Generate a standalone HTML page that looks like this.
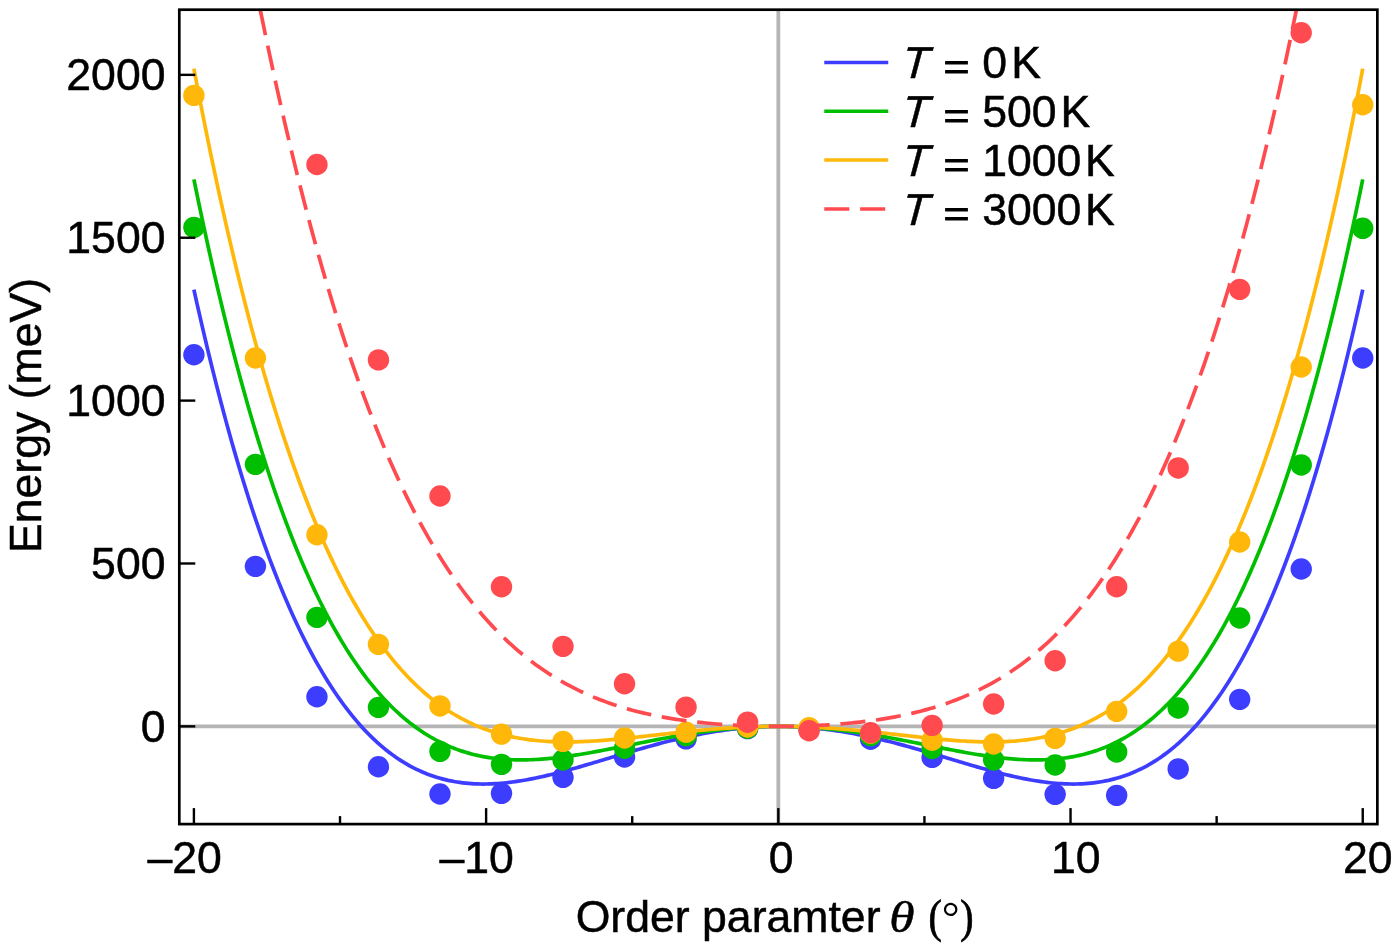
<!DOCTYPE html>
<html lang="en"><head><meta charset="utf-8"><title>Energy vs order parameter</title>
<style>html,body{margin:0;padding:0;background:#fff}svg{display:block;filter:blur(0.4px)}text{font-family:"Liberation Sans",sans-serif;font-size:44.6px;fill:#000;stroke:#000;stroke-width:0.5px}.it{font-style:italic}.ser{font-family:"Liberation Serif",serif;font-style:italic}</style></head><body>
<svg width="1400" height="950" viewBox="0 0 1400 950">
<rect width="1400" height="950" fill="#fff"/>
<defs><clipPath id="ax"><rect x="179.3" y="9.7" width="1198.05" height="814.4"/></clipPath></defs>
<g stroke="#b5b5b5" stroke-width="3.8" fill="none">
<line x1="179.3" y1="726.37" x2="1377.35" y2="726.37"/>
<line x1="778.33" y1="9.7" x2="778.33" y2="824.1"/>
</g>
<g clip-path="url(#ax)">
<path d="M193.91,289.66 L196.83,302.80 L199.75,315.70 L202.68,328.36 L205.60,340.79 L208.52,352.98 L211.44,364.94 L214.36,376.67 L217.29,388.18 L220.21,399.46 L223.13,410.53 L226.05,421.37 L228.98,432.00 L231.90,442.42 L234.82,452.62 L237.74,462.62 L240.66,472.41 L243.59,481.99 L246.51,491.38 L249.43,500.57 L252.35,509.56 L255.27,518.36 L258.20,526.97 L261.12,535.39 L264.04,543.62 L266.96,551.67 L269.88,559.53 L272.81,567.22 L275.73,574.73 L278.65,582.07 L281.57,589.23 L284.49,596.22 L287.42,603.05 L290.34,609.71 L293.26,616.20 L296.18,622.54 L299.11,628.71 L302.03,634.73 L304.95,640.59 L307.87,646.30 L310.79,651.87 L313.72,657.28 L316.64,662.55 L319.56,667.67 L322.48,672.65 L325.40,677.49 L328.33,682.19 L331.25,686.76 L334.17,691.20 L337.09,695.50 L340.01,699.67 L342.94,703.72 L345.86,707.64 L348.78,711.44 L351.70,715.11 L354.62,718.67 L357.55,722.11 L360.47,725.43 L363.39,728.64 L366.31,731.74 L369.23,734.72 L372.16,737.60 L375.08,740.37 L378.00,743.04 L380.92,745.61 L383.85,748.07 L386.77,750.44 L389.69,752.71 L392.61,754.88 L395.53,756.96 L398.46,758.95 L401.38,760.84 L404.30,762.65 L407.22,764.37 L410.14,766.01 L413.07,767.57 L415.99,769.04 L418.91,770.43 L421.83,771.75 L424.75,772.98 L427.68,774.15 L430.60,775.23 L433.52,776.25 L436.44,777.20 L439.36,778.08 L442.29,778.89 L445.21,779.63 L448.13,780.32 L451.05,780.93 L453.97,781.49 L456.90,781.99 L459.82,782.43 L462.74,782.81 L465.66,783.14 L468.59,783.42 L471.51,783.64 L474.43,783.81 L477.35,783.93 L480.27,784.01 L483.20,784.03 L486.12,784.02 L489.04,783.95 L491.96,783.85 L494.88,783.70 L497.81,783.51 L500.73,783.29 L503.65,783.02 L506.57,782.73 L509.49,782.39 L512.42,782.02 L515.34,781.62 L518.26,781.19 L521.18,780.73 L524.10,780.23 L527.03,779.71 L529.95,779.17 L532.87,778.60 L535.79,778.00 L538.72,777.38 L541.64,776.74 L544.56,776.08 L547.48,775.39 L550.40,774.69 L553.33,773.97 L556.25,773.23 L559.17,772.48 L562.09,771.71 L565.01,770.93 L567.94,770.14 L570.86,769.33 L573.78,768.51 L576.70,767.69 L579.62,766.85 L582.55,766.00 L585.47,765.15 L588.39,764.29 L591.31,763.43 L594.23,762.56 L597.16,761.69 L600.08,760.81 L603.00,759.94 L605.92,759.06 L608.84,758.18 L611.77,757.30 L614.69,756.42 L617.61,755.54 L620.53,754.67 L623.46,753.80 L626.38,752.93 L629.30,752.07 L632.22,751.21 L635.14,750.36 L638.07,749.51 L640.99,748.68 L643.91,747.85 L646.83,747.02 L649.75,746.21 L652.68,745.41 L655.60,744.62 L658.52,743.84 L661.44,743.07 L664.36,742.31 L667.29,741.57 L670.21,740.83 L673.13,740.12 L676.05,739.41 L678.97,738.72 L681.90,738.05 L684.82,737.39 L687.74,736.74 L690.66,736.11 L693.58,735.50 L696.51,734.91 L699.43,734.33 L702.35,733.77 L705.27,733.23 L708.20,732.71 L711.12,732.21 L714.04,731.72 L716.96,731.26 L719.88,730.81 L722.81,730.39 L725.73,729.98 L728.65,729.60 L731.57,729.23 L734.49,728.89 L737.42,728.57 L740.34,728.27 L743.26,727.99 L746.18,727.73 L749.10,727.50 L752.03,727.29 L754.95,727.09 L757.87,726.93 L760.79,726.78 L763.71,726.65 L766.64,726.55 L769.56,726.47 L772.48,726.42 L775.40,726.38 L778.33,726.37 L781.25,726.38 L784.17,726.42 L787.09,726.47 L790.01,726.55 L792.94,726.65 L795.86,726.78 L798.78,726.93 L801.70,727.09 L804.62,727.29 L807.55,727.50 L810.47,727.73 L813.39,727.99 L816.31,728.27 L819.23,728.57 L822.16,728.89 L825.08,729.23 L828.00,729.60 L830.92,729.98 L833.84,730.39 L836.77,730.81 L839.69,731.26 L842.61,731.72 L845.53,732.21 L848.45,732.71 L851.38,733.23 L854.30,733.77 L857.22,734.33 L860.14,734.91 L863.07,735.50 L865.99,736.11 L868.91,736.74 L871.83,737.39 L874.75,738.05 L877.68,738.72 L880.60,739.41 L883.52,740.12 L886.44,740.83 L889.36,741.57 L892.29,742.31 L895.21,743.07 L898.13,743.84 L901.05,744.62 L903.97,745.41 L906.90,746.21 L909.82,747.02 L912.74,747.85 L915.66,748.68 L918.58,749.51 L921.51,750.36 L924.43,751.21 L927.35,752.07 L930.27,752.93 L933.19,753.80 L936.12,754.67 L939.04,755.54 L941.96,756.42 L944.88,757.30 L947.81,758.18 L950.73,759.06 L953.65,759.94 L956.57,760.81 L959.49,761.69 L962.42,762.56 L965.34,763.43 L968.26,764.29 L971.18,765.15 L974.10,766.00 L977.03,766.85 L979.95,767.69 L982.87,768.51 L985.79,769.33 L988.71,770.14 L991.64,770.93 L994.56,771.71 L997.48,772.48 L1000.40,773.23 L1003.32,773.97 L1006.25,774.69 L1009.17,775.39 L1012.09,776.08 L1015.01,776.74 L1017.93,777.38 L1020.86,778.00 L1023.78,778.60 L1026.70,779.17 L1029.62,779.71 L1032.55,780.23 L1035.47,780.73 L1038.39,781.19 L1041.31,781.62 L1044.23,782.02 L1047.16,782.39 L1050.08,782.73 L1053.00,783.02 L1055.92,783.29 L1058.84,783.51 L1061.77,783.70 L1064.69,783.85 L1067.61,783.95 L1070.53,784.02 L1073.45,784.03 L1076.38,784.01 L1079.30,783.93 L1082.22,783.81 L1085.14,783.64 L1088.06,783.42 L1090.99,783.14 L1093.91,782.81 L1096.83,782.43 L1099.75,781.99 L1102.68,781.49 L1105.60,780.93 L1108.52,780.32 L1111.44,779.63 L1114.36,778.89 L1117.29,778.08 L1120.21,777.20 L1123.13,776.25 L1126.05,775.23 L1128.97,774.15 L1131.90,772.98 L1134.82,771.75 L1137.74,770.43 L1140.66,769.04 L1143.58,767.57 L1146.51,766.01 L1149.43,764.37 L1152.35,762.65 L1155.27,760.84 L1158.19,758.95 L1161.12,756.96 L1164.04,754.88 L1166.96,752.71 L1169.88,750.44 L1172.80,748.07 L1175.73,745.61 L1178.65,743.04 L1181.57,740.37 L1184.49,737.60 L1187.42,734.72 L1190.34,731.74 L1193.26,728.64 L1196.18,725.43 L1199.10,722.11 L1202.03,718.67 L1204.95,715.11 L1207.87,711.44 L1210.79,707.64 L1213.71,703.72 L1216.64,699.67 L1219.56,695.50 L1222.48,691.20 L1225.40,686.76 L1228.32,682.19 L1231.25,677.49 L1234.17,672.65 L1237.09,667.67 L1240.01,662.55 L1242.93,657.28 L1245.86,651.87 L1248.78,646.30 L1251.70,640.59 L1254.62,634.73 L1257.54,628.71 L1260.47,622.54 L1263.39,616.20 L1266.31,609.71 L1269.23,603.05 L1272.16,596.22 L1275.08,589.23 L1278.00,582.07 L1280.92,574.73 L1283.84,567.22 L1286.77,559.53 L1289.69,551.67 L1292.61,543.62 L1295.53,535.39 L1298.45,526.97 L1301.38,518.36 L1304.30,509.56 L1307.22,500.57 L1310.14,491.38 L1313.06,481.99 L1315.99,472.41 L1318.91,462.62 L1321.83,452.62 L1324.75,442.42 L1327.67,432.00 L1330.60,421.37 L1333.52,410.53 L1336.44,399.46 L1339.36,388.18 L1342.29,376.67 L1345.21,364.94 L1348.13,352.98 L1351.05,340.79 L1353.97,328.36 L1356.90,315.70 L1359.82,302.80 L1362.74,289.66" fill="none" stroke="#3d3dff" stroke-width="3.7"/>
<g fill="#3d3dff">
<circle cx="193.91" cy="354.74" r="10.7"/>
<circle cx="255.43" cy="566.35" r="10.7"/>
<circle cx="316.95" cy="696.75" r="10.7"/>
<circle cx="378.46" cy="766.76" r="10.7"/>
<circle cx="439.98" cy="793.96" r="10.7"/>
<circle cx="501.50" cy="793.34" r="10.7"/>
<circle cx="563.01" cy="777.35" r="10.7"/>
<circle cx="624.53" cy="757.02" r="10.7"/>
<circle cx="686.05" cy="738.81" r="10.7"/>
<circle cx="747.57" cy="728.64" r="10.7"/>
<circle cx="809.08" cy="729.00" r="10.7"/>
<circle cx="870.60" cy="739.23" r="10.7"/>
<circle cx="932.12" cy="757.41" r="10.7"/>
<circle cx="993.64" cy="778.35" r="10.7"/>
<circle cx="1055.15" cy="794.35" r="10.7"/>
<circle cx="1116.67" cy="795.36" r="10.7"/>
<circle cx="1178.19" cy="768.94" r="10.7"/>
<circle cx="1239.70" cy="699.36" r="10.7"/>
<circle cx="1301.22" cy="568.96" r="10.7"/>
<circle cx="1362.74" cy="357.96" r="10.7"/>
</g>
<path d="M193.91,179.29 L196.83,193.57 L199.75,207.60 L202.68,221.39 L205.60,234.93 L208.52,248.23 L211.44,261.30 L214.36,274.13 L217.29,286.73 L220.21,299.10 L223.13,311.24 L226.05,323.16 L228.98,334.85 L231.90,346.33 L234.82,357.59 L237.74,368.63 L240.66,379.47 L243.59,390.09 L246.51,400.50 L249.43,410.72 L252.35,420.72 L255.27,430.53 L258.20,440.15 L261.12,449.56 L264.04,458.79 L266.96,467.82 L269.88,476.67 L272.81,485.33 L275.73,493.81 L278.65,502.10 L281.57,510.22 L284.49,518.16 L287.42,525.93 L290.34,533.52 L293.26,540.95 L296.18,548.21 L299.11,555.30 L302.03,562.23 L304.95,569.00 L307.87,575.62 L310.79,582.07 L313.72,588.37 L316.64,594.52 L319.56,600.52 L322.48,606.37 L325.40,612.08 L328.33,617.64 L331.25,623.06 L334.17,628.34 L337.09,633.48 L340.01,638.49 L342.94,643.36 L345.86,648.11 L348.78,652.72 L351.70,657.21 L354.62,661.57 L357.55,665.80 L360.47,669.92 L363.39,673.91 L366.31,677.79 L369.23,681.55 L372.16,685.20 L375.08,688.74 L378.00,692.16 L380.92,695.48 L383.85,698.69 L386.77,701.80 L389.69,704.80 L392.61,707.70 L395.53,710.50 L398.46,713.21 L401.38,715.81 L404.30,718.33 L407.22,720.75 L410.14,723.08 L413.07,725.32 L415.99,727.48 L418.91,729.55 L421.83,731.53 L424.75,733.43 L427.68,735.25 L430.60,737.00 L433.52,738.66 L436.44,740.25 L439.36,741.76 L442.29,743.21 L445.21,744.58 L448.13,745.88 L451.05,747.11 L453.97,748.27 L456.90,749.37 L459.82,750.41 L462.74,751.38 L465.66,752.30 L468.59,753.15 L471.51,753.95 L474.43,754.69 L477.35,755.37 L480.27,756.00 L483.20,756.58 L486.12,757.11 L489.04,757.58 L491.96,758.01 L494.88,758.40 L497.81,758.73 L500.73,759.02 L503.65,759.27 L506.57,759.48 L509.49,759.65 L512.42,759.77 L515.34,759.86 L518.26,759.91 L521.18,759.93 L524.10,759.91 L527.03,759.86 L529.95,759.77 L532.87,759.66 L535.79,759.51 L538.72,759.34 L541.64,759.14 L544.56,758.91 L547.48,758.65 L550.40,758.37 L553.33,758.07 L556.25,757.75 L559.17,757.40 L562.09,757.04 L565.01,756.65 L567.94,756.25 L570.86,755.82 L573.78,755.39 L576.70,754.93 L579.62,754.46 L582.55,753.98 L585.47,753.49 L588.39,752.98 L591.31,752.46 L594.23,751.94 L597.16,751.40 L600.08,750.85 L603.00,750.30 L605.92,749.74 L608.84,749.18 L611.77,748.60 L614.69,748.03 L617.61,747.45 L620.53,746.87 L623.46,746.28 L626.38,745.70 L629.30,745.11 L632.22,744.52 L635.14,743.94 L638.07,743.35 L640.99,742.77 L643.91,742.19 L646.83,741.61 L649.75,741.04 L652.68,740.47 L655.60,739.91 L658.52,739.35 L661.44,738.79 L664.36,738.25 L667.29,737.71 L670.21,737.18 L673.13,736.65 L676.05,736.14 L678.97,735.63 L681.90,735.14 L684.82,734.65 L687.74,734.18 L690.66,733.71 L693.58,733.26 L696.51,732.82 L699.43,732.39 L702.35,731.97 L705.27,731.56 L708.20,731.17 L711.12,730.80 L714.04,730.43 L716.96,730.08 L719.88,729.75 L722.81,729.42 L725.73,729.12 L728.65,728.83 L731.57,728.55 L734.49,728.29 L737.42,728.05 L740.34,727.82 L743.26,727.61 L746.18,727.41 L749.10,727.23 L752.03,727.07 L754.95,726.92 L757.87,726.79 L760.79,726.68 L763.71,726.59 L766.64,726.51 L769.56,726.45 L772.48,726.41 L775.40,726.38 L778.33,726.37 L781.25,726.38 L784.17,726.41 L787.09,726.45 L790.01,726.51 L792.94,726.59 L795.86,726.68 L798.78,726.79 L801.70,726.92 L804.62,727.07 L807.55,727.23 L810.47,727.41 L813.39,727.61 L816.31,727.82 L819.23,728.05 L822.16,728.29 L825.08,728.55 L828.00,728.83 L830.92,729.12 L833.84,729.42 L836.77,729.75 L839.69,730.08 L842.61,730.43 L845.53,730.80 L848.45,731.17 L851.38,731.56 L854.30,731.97 L857.22,732.39 L860.14,732.82 L863.07,733.26 L865.99,733.71 L868.91,734.18 L871.83,734.65 L874.75,735.14 L877.68,735.63 L880.60,736.14 L883.52,736.65 L886.44,737.18 L889.36,737.71 L892.29,738.25 L895.21,738.79 L898.13,739.35 L901.05,739.91 L903.97,740.47 L906.90,741.04 L909.82,741.61 L912.74,742.19 L915.66,742.77 L918.58,743.35 L921.51,743.94 L924.43,744.52 L927.35,745.11 L930.27,745.70 L933.19,746.28 L936.12,746.87 L939.04,747.45 L941.96,748.03 L944.88,748.60 L947.81,749.18 L950.73,749.74 L953.65,750.30 L956.57,750.85 L959.49,751.40 L962.42,751.94 L965.34,752.46 L968.26,752.98 L971.18,753.49 L974.10,753.98 L977.03,754.46 L979.95,754.93 L982.87,755.39 L985.79,755.82 L988.71,756.25 L991.64,756.65 L994.56,757.04 L997.48,757.40 L1000.40,757.75 L1003.32,758.07 L1006.25,758.37 L1009.17,758.65 L1012.09,758.91 L1015.01,759.14 L1017.93,759.34 L1020.86,759.51 L1023.78,759.66 L1026.70,759.77 L1029.62,759.86 L1032.55,759.91 L1035.47,759.93 L1038.39,759.91 L1041.31,759.86 L1044.23,759.77 L1047.16,759.65 L1050.08,759.48 L1053.00,759.27 L1055.92,759.02 L1058.84,758.73 L1061.77,758.40 L1064.69,758.01 L1067.61,757.58 L1070.53,757.11 L1073.45,756.58 L1076.38,756.00 L1079.30,755.37 L1082.22,754.69 L1085.14,753.95 L1088.06,753.15 L1090.99,752.30 L1093.91,751.38 L1096.83,750.41 L1099.75,749.37 L1102.68,748.27 L1105.60,747.11 L1108.52,745.88 L1111.44,744.58 L1114.36,743.21 L1117.29,741.76 L1120.21,740.25 L1123.13,738.66 L1126.05,737.00 L1128.97,735.25 L1131.90,733.43 L1134.82,731.53 L1137.74,729.55 L1140.66,727.48 L1143.58,725.32 L1146.51,723.08 L1149.43,720.75 L1152.35,718.33 L1155.27,715.81 L1158.19,713.21 L1161.12,710.50 L1164.04,707.70 L1166.96,704.80 L1169.88,701.80 L1172.80,698.69 L1175.73,695.48 L1178.65,692.16 L1181.57,688.74 L1184.49,685.20 L1187.42,681.55 L1190.34,677.79 L1193.26,673.91 L1196.18,669.92 L1199.10,665.80 L1202.03,661.57 L1204.95,657.21 L1207.87,652.72 L1210.79,648.11 L1213.71,643.36 L1216.64,638.49 L1219.56,633.48 L1222.48,628.34 L1225.40,623.06 L1228.32,617.64 L1231.25,612.08 L1234.17,606.37 L1237.09,600.52 L1240.01,594.52 L1242.93,588.37 L1245.86,582.07 L1248.78,575.62 L1251.70,569.00 L1254.62,562.23 L1257.54,555.30 L1260.47,548.21 L1263.39,540.95 L1266.31,533.52 L1269.23,525.93 L1272.16,518.16 L1275.08,510.22 L1278.00,502.10 L1280.92,493.81 L1283.84,485.33 L1286.77,476.67 L1289.69,467.82 L1292.61,458.79 L1295.53,449.56 L1298.45,440.15 L1301.38,430.53 L1304.30,420.72 L1307.22,410.72 L1310.14,400.50 L1313.06,390.09 L1315.99,379.47 L1318.91,368.63 L1321.83,357.59 L1324.75,346.33 L1327.67,334.85 L1330.60,323.16 L1333.52,311.24 L1336.44,299.10 L1339.36,286.73 L1342.29,274.13 L1345.21,261.30 L1348.13,248.23 L1351.05,234.93 L1353.97,221.39 L1356.90,207.60 L1359.82,193.57 L1362.74,179.29" fill="none" stroke="#00bf00" stroke-width="3.7"/>
<g fill="#00bf00">
<circle cx="193.91" cy="227.33" r="10.7"/>
<circle cx="255.43" cy="464.35" r="10.7"/>
<circle cx="316.95" cy="617.36" r="10.7"/>
<circle cx="378.46" cy="707.34" r="10.7"/>
<circle cx="439.98" cy="751.35" r="10.7"/>
<circle cx="501.50" cy="764.35" r="10.7"/>
<circle cx="563.01" cy="759.95" r="10.7"/>
<circle cx="624.53" cy="748.25" r="10.7"/>
<circle cx="686.05" cy="735.65" r="10.7"/>
<circle cx="747.57" cy="728.22" r="10.7"/>
<circle cx="809.08" cy="728.35" r="10.7"/>
<circle cx="870.60" cy="735.65" r="10.7"/>
<circle cx="932.12" cy="748.55" r="10.7"/>
<circle cx="993.64" cy="759.95" r="10.7"/>
<circle cx="1055.15" cy="764.97" r="10.7"/>
<circle cx="1116.67" cy="751.94" r="10.7"/>
<circle cx="1178.19" cy="707.96" r="10.7"/>
<circle cx="1239.70" cy="617.95" r="10.7"/>
<circle cx="1301.22" cy="464.94" r="10.7"/>
<circle cx="1362.74" cy="228.31" r="10.7"/>
</g>
<path d="M193.91,68.71 L196.83,84.10 L199.75,99.23 L202.68,114.11 L205.60,128.74 L208.52,143.13 L211.44,157.27 L214.36,171.17 L217.29,184.84 L220.21,198.27 L223.13,211.47 L226.05,224.43 L228.98,237.17 L231.90,249.68 L234.82,261.98 L237.74,274.05 L240.66,285.90 L243.59,297.54 L246.51,308.97 L249.43,320.18 L252.35,331.19 L255.27,341.99 L258.20,352.59 L261.12,362.99 L264.04,373.19 L266.96,383.20 L269.88,393.01 L272.81,402.63 L275.73,412.06 L278.65,421.31 L281.57,430.37 L284.49,439.25 L287.42,447.95 L290.34,456.47 L293.26,464.82 L296.18,472.99 L299.11,481.00 L302.03,488.83 L304.95,496.50 L307.87,504.01 L310.79,511.35 L313.72,518.53 L316.64,525.56 L319.56,532.43 L322.48,539.15 L325.40,545.71 L328.33,552.13 L331.25,558.40 L334.17,564.52 L337.09,570.50 L340.01,576.34 L342.94,582.04 L345.86,587.61 L348.78,593.04 L351.70,598.33 L354.62,603.50 L357.55,608.53 L360.47,613.44 L363.39,618.23 L366.31,622.89 L369.23,627.42 L372.16,631.84 L375.08,636.14 L378.00,640.33 L380.92,644.40 L383.85,648.36 L386.77,652.21 L389.69,655.95 L392.61,659.58 L395.53,663.11 L398.46,666.54 L401.38,669.86 L404.30,673.09 L407.22,676.21 L410.14,679.24 L413.07,682.18 L415.99,685.02 L418.91,687.77 L421.83,690.43 L424.75,693.01 L427.68,695.49 L430.60,697.90 L433.52,700.22 L436.44,702.45 L439.36,704.61 L442.29,706.69 L445.21,708.70 L448.13,710.62 L451.05,712.48 L453.97,714.26 L456.90,715.97 L459.82,717.61 L462.74,719.18 L465.66,720.69 L468.59,722.13 L471.51,723.51 L474.43,724.83 L477.35,726.08 L480.27,727.28 L483.20,728.42 L486.12,729.50 L489.04,730.53 L491.96,731.50 L494.88,732.42 L497.81,733.29 L500.73,734.11 L503.65,734.88 L506.57,735.61 L509.49,736.28 L512.42,736.91 L515.34,737.50 L518.26,738.05 L521.18,738.55 L524.10,739.02 L527.03,739.44 L529.95,739.83 L532.87,740.18 L535.79,740.50 L538.72,740.78 L541.64,741.03 L544.56,741.24 L547.48,741.43 L550.40,741.58 L553.33,741.71 L556.25,741.81 L559.17,741.88 L562.09,741.92 L565.01,741.94 L567.94,741.94 L570.86,741.91 L573.78,741.86 L576.70,741.79 L579.62,741.70 L582.55,741.59 L585.47,741.47 L588.39,741.32 L591.31,741.16 L594.23,740.98 L597.16,740.79 L600.08,740.59 L603.00,740.37 L605.92,740.14 L608.84,739.89 L611.77,739.64 L614.69,739.38 L617.61,739.10 L620.53,738.82 L623.46,738.53 L626.38,738.24 L629.30,737.93 L632.22,737.63 L635.14,737.31 L638.07,737.00 L640.99,736.68 L643.91,736.35 L646.83,736.03 L649.75,735.70 L652.68,735.37 L655.60,735.04 L658.52,734.71 L661.44,734.38 L664.36,734.05 L667.29,733.72 L670.21,733.40 L673.13,733.08 L676.05,732.76 L678.97,732.44 L681.90,732.13 L684.82,731.83 L687.74,731.52 L690.66,731.23 L693.58,730.94 L696.51,730.65 L699.43,730.37 L702.35,730.10 L705.27,729.84 L708.20,729.58 L711.12,729.34 L714.04,729.10 L716.96,728.86 L719.88,728.64 L722.81,728.43 L725.73,728.22 L728.65,728.03 L731.57,727.85 L734.49,727.67 L737.42,727.51 L740.34,727.35 L743.26,727.21 L746.18,727.08 L749.10,726.96 L752.03,726.85 L754.95,726.75 L757.87,726.66 L760.79,726.58 L763.71,726.52 L766.64,726.47 L769.56,726.43 L772.48,726.40 L775.40,726.38 L778.33,726.37 L781.25,726.38 L784.17,726.40 L787.09,726.43 L790.01,726.47 L792.94,726.52 L795.86,726.58 L798.78,726.66 L801.70,726.75 L804.62,726.85 L807.55,726.96 L810.47,727.08 L813.39,727.21 L816.31,727.35 L819.23,727.51 L822.16,727.67 L825.08,727.85 L828.00,728.03 L830.92,728.22 L833.84,728.43 L836.77,728.64 L839.69,728.86 L842.61,729.10 L845.53,729.34 L848.45,729.58 L851.38,729.84 L854.30,730.10 L857.22,730.37 L860.14,730.65 L863.07,730.94 L865.99,731.23 L868.91,731.52 L871.83,731.83 L874.75,732.13 L877.68,732.44 L880.60,732.76 L883.52,733.08 L886.44,733.40 L889.36,733.72 L892.29,734.05 L895.21,734.38 L898.13,734.71 L901.05,735.04 L903.97,735.37 L906.90,735.70 L909.82,736.03 L912.74,736.35 L915.66,736.68 L918.58,737.00 L921.51,737.31 L924.43,737.63 L927.35,737.93 L930.27,738.24 L933.19,738.53 L936.12,738.82 L939.04,739.10 L941.96,739.38 L944.88,739.64 L947.81,739.89 L950.73,740.14 L953.65,740.37 L956.57,740.59 L959.49,740.79 L962.42,740.98 L965.34,741.16 L968.26,741.32 L971.18,741.47 L974.10,741.59 L977.03,741.70 L979.95,741.79 L982.87,741.86 L985.79,741.91 L988.71,741.94 L991.64,741.94 L994.56,741.92 L997.48,741.88 L1000.40,741.81 L1003.32,741.71 L1006.25,741.58 L1009.17,741.43 L1012.09,741.24 L1015.01,741.03 L1017.93,740.78 L1020.86,740.50 L1023.78,740.18 L1026.70,739.83 L1029.62,739.44 L1032.55,739.02 L1035.47,738.55 L1038.39,738.05 L1041.31,737.50 L1044.23,736.91 L1047.16,736.28 L1050.08,735.61 L1053.00,734.88 L1055.92,734.11 L1058.84,733.29 L1061.77,732.42 L1064.69,731.50 L1067.61,730.53 L1070.53,729.50 L1073.45,728.42 L1076.38,727.28 L1079.30,726.08 L1082.22,724.83 L1085.14,723.51 L1088.06,722.13 L1090.99,720.69 L1093.91,719.18 L1096.83,717.61 L1099.75,715.97 L1102.68,714.26 L1105.60,712.48 L1108.52,710.62 L1111.44,708.70 L1114.36,706.69 L1117.29,704.61 L1120.21,702.45 L1123.13,700.22 L1126.05,697.90 L1128.97,695.49 L1131.90,693.01 L1134.82,690.43 L1137.74,687.77 L1140.66,685.02 L1143.58,682.18 L1146.51,679.24 L1149.43,676.21 L1152.35,673.09 L1155.27,669.86 L1158.19,666.54 L1161.12,663.11 L1164.04,659.58 L1166.96,655.95 L1169.88,652.21 L1172.80,648.36 L1175.73,644.40 L1178.65,640.33 L1181.57,636.14 L1184.49,631.84 L1187.42,627.42 L1190.34,622.89 L1193.26,618.23 L1196.18,613.44 L1199.10,608.53 L1202.03,603.50 L1204.95,598.33 L1207.87,593.04 L1210.79,587.61 L1213.71,582.04 L1216.64,576.34 L1219.56,570.50 L1222.48,564.52 L1225.40,558.40 L1228.32,552.13 L1231.25,545.71 L1234.17,539.15 L1237.09,532.43 L1240.01,525.56 L1242.93,518.53 L1245.86,511.35 L1248.78,504.01 L1251.70,496.50 L1254.62,488.83 L1257.54,481.00 L1260.47,472.99 L1263.39,464.82 L1266.31,456.47 L1269.23,447.95 L1272.16,439.25 L1275.08,430.37 L1278.00,421.31 L1280.92,412.06 L1283.84,402.63 L1286.77,393.01 L1289.69,383.20 L1292.61,373.19 L1295.53,362.99 L1298.45,352.59 L1301.38,341.99 L1304.30,331.19 L1307.22,320.18 L1310.14,308.97 L1313.06,297.54 L1315.99,285.90 L1318.91,274.05 L1321.83,261.98 L1324.75,249.68 L1327.67,237.17 L1330.60,224.43 L1333.52,211.47 L1336.44,198.27 L1339.36,184.84 L1342.29,171.17 L1345.21,157.27 L1348.13,143.13 L1351.05,128.74 L1353.97,114.11 L1356.90,99.23 L1359.82,84.10 L1362.74,68.71" fill="none" stroke="#ffb80a" stroke-width="3.7"/>
<g fill="#ffb80a">
<circle cx="193.91" cy="95.40" r="10.7"/>
<circle cx="255.43" cy="357.96" r="10.7"/>
<circle cx="316.95" cy="534.75" r="10.7"/>
<circle cx="378.46" cy="644.37" r="10.7"/>
<circle cx="439.98" cy="705.94" r="10.7"/>
<circle cx="501.50" cy="734.08" r="10.7"/>
<circle cx="563.01" cy="741.35" r="10.7"/>
<circle cx="624.53" cy="737.96" r="10.7"/>
<circle cx="686.05" cy="732.23" r="10.7"/>
<circle cx="747.57" cy="727.05" r="10.7"/>
<circle cx="809.08" cy="727.80" r="10.7"/>
<circle cx="870.60" cy="733.24" r="10.7"/>
<circle cx="932.12" cy="740.24" r="10.7"/>
<circle cx="993.64" cy="743.95" r="10.7"/>
<circle cx="1055.15" cy="738.35" r="10.7"/>
<circle cx="1116.67" cy="711.35" r="10.7"/>
<circle cx="1178.19" cy="651.15" r="10.7"/>
<circle cx="1239.70" cy="541.95" r="10.7"/>
<circle cx="1301.22" cy="366.95" r="10.7"/>
<circle cx="1362.74" cy="104.75" r="10.7"/>
</g>
<path d="M193.91,-378.66 L196.83,-358.73 L199.75,-339.08 L202.68,-319.70 L205.60,-300.59 L208.52,-281.76 L211.44,-263.19 L214.36,-244.89 L217.29,-226.85 L220.21,-209.07 L223.13,-191.55 L226.05,-174.28 L228.98,-157.26 L231.90,-140.49 L234.82,-123.97 L237.74,-107.69 L240.66,-91.66 L243.59,-75.86 L246.51,-60.30 L249.43,-44.98 L252.35,-29.88 L255.27,-15.02 L258.20,-0.38 L261.12,14.03 L264.04,28.22 L266.96,42.19 L269.88,55.95 L272.81,69.49 L275.73,82.81 L278.65,95.93 L281.57,108.84 L284.49,121.54 L287.42,134.04 L290.34,146.34 L293.26,158.43 L296.18,170.34 L299.11,182.04 L302.03,193.56 L304.95,204.89 L307.87,216.02 L310.79,226.98 L313.72,237.75 L316.64,248.34 L319.56,258.74 L322.48,268.98 L325.40,279.03 L328.33,288.92 L331.25,298.63 L334.17,308.18 L337.09,317.56 L340.01,326.77 L342.94,335.83 L345.86,344.72 L348.78,353.45 L351.70,362.03 L354.62,370.45 L357.55,378.72 L360.47,386.84 L363.39,394.82 L366.31,402.64 L369.23,410.32 L372.16,417.86 L375.08,425.26 L378.00,432.51 L380.92,439.63 L383.85,446.62 L386.77,453.47 L389.69,460.19 L392.61,466.78 L395.53,473.25 L398.46,479.58 L401.38,485.80 L404.30,491.88 L407.22,497.85 L410.14,503.70 L413.07,509.43 L415.99,515.05 L418.91,520.55 L421.83,525.94 L424.75,531.22 L427.68,536.39 L430.60,541.45 L433.52,546.40 L436.44,551.25 L439.36,556.00 L442.29,560.65 L445.21,565.20 L448.13,569.65 L451.05,574.00 L453.97,578.26 L456.90,582.42 L459.82,586.49 L462.74,590.47 L465.66,594.37 L468.59,598.17 L471.51,601.89 L474.43,605.53 L477.35,609.08 L480.27,612.54 L483.20,615.93 L486.12,619.24 L489.04,622.47 L491.96,625.63 L494.88,628.71 L497.81,631.71 L500.73,634.65 L503.65,637.51 L506.57,640.30 L509.49,643.03 L512.42,645.68 L515.34,648.27 L518.26,650.80 L521.18,653.26 L524.10,655.66 L527.03,658.00 L529.95,660.27 L532.87,662.49 L535.79,664.65 L538.72,666.76 L541.64,668.80 L544.56,670.80 L547.48,672.74 L550.40,674.63 L553.33,676.46 L556.25,678.25 L559.17,679.99 L562.09,681.67 L565.01,683.32 L567.94,684.91 L570.86,686.46 L573.78,687.97 L576.70,689.43 L579.62,690.85 L582.55,692.23 L585.47,693.57 L588.39,694.87 L591.31,696.13 L594.23,697.35 L597.16,698.53 L600.08,699.68 L603.00,700.79 L605.92,701.87 L608.84,702.92 L611.77,703.93 L614.69,704.91 L617.61,705.86 L620.53,706.78 L623.46,707.67 L626.38,708.53 L629.30,709.36 L632.22,710.16 L635.14,710.94 L638.07,711.69 L640.99,712.41 L643.91,713.11 L646.83,713.78 L649.75,714.43 L652.68,715.06 L655.60,715.66 L658.52,716.25 L661.44,716.81 L664.36,717.35 L667.29,717.87 L670.21,718.37 L673.13,718.85 L676.05,719.31 L678.97,719.75 L681.90,720.18 L684.82,720.58 L687.74,720.97 L690.66,721.35 L693.58,721.70 L696.51,722.05 L699.43,722.37 L702.35,722.68 L705.27,722.98 L708.20,723.26 L711.12,723.53 L714.04,723.78 L716.96,724.02 L719.88,724.25 L722.81,724.47 L725.73,724.67 L728.65,724.86 L731.57,725.04 L734.49,725.20 L737.42,725.36 L740.34,725.50 L743.26,725.63 L746.18,725.75 L749.10,725.86 L752.03,725.96 L754.95,726.04 L757.87,726.12 L760.79,726.19 L763.71,726.24 L766.64,726.29 L769.56,726.33 L772.48,726.35 L775.40,726.37 L778.33,726.37 L781.25,726.37 L784.17,726.35 L787.09,726.33 L790.01,726.29 L792.94,726.24 L795.86,726.19 L798.78,726.12 L801.70,726.04 L804.62,725.96 L807.55,725.86 L810.47,725.75 L813.39,725.63 L816.31,725.50 L819.23,725.36 L822.16,725.20 L825.08,725.04 L828.00,724.86 L830.92,724.67 L833.84,724.47 L836.77,724.25 L839.69,724.02 L842.61,723.78 L845.53,723.53 L848.45,723.26 L851.38,722.98 L854.30,722.68 L857.22,722.37 L860.14,722.05 L863.07,721.70 L865.99,721.35 L868.91,720.97 L871.83,720.58 L874.75,720.18 L877.68,719.75 L880.60,719.31 L883.52,718.85 L886.44,718.37 L889.36,717.87 L892.29,717.35 L895.21,716.81 L898.13,716.25 L901.05,715.66 L903.97,715.06 L906.90,714.43 L909.82,713.78 L912.74,713.11 L915.66,712.41 L918.58,711.69 L921.51,710.94 L924.43,710.16 L927.35,709.36 L930.27,708.53 L933.19,707.67 L936.12,706.78 L939.04,705.86 L941.96,704.91 L944.88,703.93 L947.81,702.92 L950.73,701.87 L953.65,700.79 L956.57,699.68 L959.49,698.53 L962.42,697.35 L965.34,696.13 L968.26,694.87 L971.18,693.57 L974.10,692.23 L977.03,690.85 L979.95,689.43 L982.87,687.97 L985.79,686.46 L988.71,684.91 L991.64,683.32 L994.56,681.67 L997.48,679.99 L1000.40,678.25 L1003.32,676.46 L1006.25,674.63 L1009.17,672.74 L1012.09,670.80 L1015.01,668.80 L1017.93,666.76 L1020.86,664.65 L1023.78,662.49 L1026.70,660.27 L1029.62,658.00 L1032.55,655.66 L1035.47,653.26 L1038.39,650.80 L1041.31,648.27 L1044.23,645.68 L1047.16,643.03 L1050.08,640.30 L1053.00,637.51 L1055.92,634.65 L1058.84,631.71 L1061.77,628.71 L1064.69,625.63 L1067.61,622.47 L1070.53,619.24 L1073.45,615.93 L1076.38,612.54 L1079.30,609.08 L1082.22,605.53 L1085.14,601.89 L1088.06,598.17 L1090.99,594.37 L1093.91,590.47 L1096.83,586.49 L1099.75,582.42 L1102.68,578.26 L1105.60,574.00 L1108.52,569.65 L1111.44,565.20 L1114.36,560.65 L1117.29,556.00 L1120.21,551.25 L1123.13,546.40 L1126.05,541.45 L1128.97,536.39 L1131.90,531.22 L1134.82,525.94 L1137.74,520.55 L1140.66,515.05 L1143.58,509.43 L1146.51,503.70 L1149.43,497.85 L1152.35,491.88 L1155.27,485.80 L1158.19,479.58 L1161.12,473.25 L1164.04,466.78 L1166.96,460.19 L1169.88,453.47 L1172.80,446.62 L1175.73,439.63 L1178.65,432.51 L1181.57,425.26 L1184.49,417.86 L1187.42,410.32 L1190.34,402.64 L1193.26,394.82 L1196.18,386.84 L1199.10,378.72 L1202.03,370.45 L1204.95,362.03 L1207.87,353.45 L1210.79,344.72 L1213.71,335.83 L1216.64,326.77 L1219.56,317.56 L1222.48,308.18 L1225.40,298.63 L1228.32,288.92 L1231.25,279.03 L1234.17,268.98 L1237.09,258.74 L1240.01,248.34 L1242.93,237.75 L1245.86,226.98 L1248.78,216.02 L1251.70,204.89 L1254.62,193.56 L1257.54,182.04 L1260.47,170.34 L1263.39,158.43 L1266.31,146.34 L1269.23,134.04 L1272.16,121.54 L1275.08,108.84 L1278.00,95.93 L1280.92,82.81 L1283.84,69.49 L1286.77,55.95 L1289.69,42.19 L1292.61,28.22 L1295.53,14.03 L1298.45,-0.38 L1301.38,-15.02 L1304.30,-29.88 L1307.22,-44.98 L1310.14,-60.30 L1313.06,-75.86 L1315.99,-91.66 L1318.91,-107.69 L1321.83,-123.97 L1324.75,-140.49 L1327.67,-157.26 L1330.60,-174.28 L1333.52,-191.55 L1336.44,-209.07 L1339.36,-226.85 L1342.29,-244.89 L1345.21,-263.19 L1348.13,-281.76 L1351.05,-300.59 L1353.97,-319.70 L1356.90,-339.08 L1359.82,-358.73 L1362.74,-378.66" fill="none" stroke="#ff4b4f" stroke-width="3.7" stroke-dasharray="25.1 10.75" stroke-dashoffset="35.31"/>
<g fill="#ff4b4f">
<circle cx="316.95" cy="164.46" r="10.7"/>
<circle cx="378.46" cy="359.92" r="10.7"/>
<circle cx="439.98" cy="495.95" r="10.7"/>
<circle cx="501.50" cy="586.74" r="10.7"/>
<circle cx="563.01" cy="646.36" r="10.7"/>
<circle cx="624.53" cy="683.72" r="10.7"/>
<circle cx="686.05" cy="707.18" r="10.7"/>
<circle cx="747.57" cy="722.19" r="10.7"/>
<circle cx="809.08" cy="730.79" r="10.7"/>
<circle cx="870.60" cy="732.78" r="10.7"/>
<circle cx="932.12" cy="725.35" r="10.7"/>
<circle cx="993.64" cy="703.95" r="10.7"/>
<circle cx="1055.15" cy="660.76" r="10.7"/>
<circle cx="1116.67" cy="586.74" r="10.7"/>
<circle cx="1178.19" cy="467.94" r="10.7"/>
<circle cx="1239.70" cy="289.36" r="10.7"/>
<circle cx="1301.22" cy="32.76" r="10.7"/>
</g>
</g>
<g stroke="#000" fill="none">
<rect x="179.3" y="9.7" width="1198.05" height="814.40" stroke-width="2.7"/>
<g stroke-width="2.4">
<line x1="193.91" y1="824.1" x2="193.91" y2="808.1"/>
<line x1="340.01" y1="824.1" x2="340.01" y2="816.1"/>
<line x1="486.12" y1="824.1" x2="486.12" y2="808.1"/>
<line x1="632.22" y1="824.1" x2="632.22" y2="816.1"/>
<line x1="778.33" y1="824.1" x2="778.33" y2="808.1"/>
<line x1="924.43" y1="824.1" x2="924.43" y2="816.1"/>
<line x1="1070.53" y1="824.1" x2="1070.53" y2="808.1"/>
<line x1="1216.64" y1="824.1" x2="1216.64" y2="816.1"/>
<line x1="1362.74" y1="824.1" x2="1362.74" y2="808.1"/>
<line x1="179.3" y1="726.37" x2="195.3" y2="726.37"/>
<line x1="179.3" y1="563.49" x2="195.3" y2="563.49"/>
<line x1="179.3" y1="400.61" x2="195.3" y2="400.61"/>
<line x1="179.3" y1="237.73" x2="195.3" y2="237.73"/>
<line x1="179.3" y1="74.85" x2="195.3" y2="74.85"/>
</g></g>
<text x="165.5" y="741.87" text-anchor="end">0</text>
<text x="165.5" y="578.99" text-anchor="end">500</text>
<text x="165.5" y="416.11" text-anchor="end">1000</text>
<text x="165.5" y="253.23" text-anchor="end">1500</text>
<text x="165.5" y="90.35" text-anchor="end">2000</text>
<text x="221.9" y="872.5" text-anchor="end">–20</text>
<text x="513.9" y="872.5" text-anchor="end">–10</text>
<text x="793.6" y="872.5" text-anchor="end">0</text>
<text x="1100.5" y="872.5" text-anchor="end">10</text>
<text x="1392.5" y="872.5" text-anchor="end">20</text>
<text x="575.7" y="932.1">Order paramter</text>
<text transform="translate(889.3,932.4) scale(1.17,1)" class="ser" style="font-size:44px">θ</text>
<text transform="translate(928.5,932.1) scale(0.85,1)" style="font-family:'Liberation Serif',serif;font-size:47px;stroke-width:0.8px">(</text>
<text x="941.7" y="932.1" style="font-family:'Liberation Serif',serif;stroke-width:0">°</text>
<text transform="translate(960.2,932.1) scale(0.85,1)" style="font-family:'Liberation Serif',serif;font-size:47px;stroke-width:0.8px">)</text>
<text transform="translate(41.4,553) rotate(-90)">Energy (meV)</text>
<line x1="824.25" y1="62.5" x2="888.25" y2="62.5" stroke="#3d3dff" stroke-width="3.7"/>
<g>
<text transform="translate(901.5,78.30) skewX(-4)" class="it">T</text>
<text transform="translate(943.4,79.40) scale(1,0.79)" style="stroke-width:1.1px">=</text>
<text y="78.30"><tspan x="982.2">0</tspan><tspan x="1011.2">K</tspan></text>
</g>
<line x1="824.25" y1="111.25" x2="888.25" y2="111.25" stroke="#00bf00" stroke-width="3.7"/>
<g>
<text transform="translate(901.5,127.05) skewX(-4)" class="it">T</text>
<text transform="translate(943.4,128.15) scale(1,0.79)" style="stroke-width:1.1px">=</text>
<text y="127.05"><tspan x="982.2">500</tspan><tspan x="1060.5">K</tspan></text>
</g>
<line x1="824.25" y1="160" x2="888.25" y2="160" stroke="#ffb80a" stroke-width="3.7"/>
<g>
<text transform="translate(901.5,175.80) skewX(-4)" class="it">T</text>
<text transform="translate(943.4,176.90) scale(1,0.79)" style="stroke-width:1.1px">=</text>
<text y="175.80"><tspan x="982.2">1000</tspan><tspan x="1085.1">K</tspan></text>
</g>
<line x1="824.25" y1="209" x2="888.25" y2="209" stroke="#ff4b4f" stroke-width="3.7" stroke-dasharray="25.1 10.75"/>
<g>
<text transform="translate(901.5,224.80) skewX(-4)" class="it">T</text>
<text transform="translate(943.4,225.90) scale(1,0.79)" style="stroke-width:1.1px">=</text>
<text y="224.80"><tspan x="982.2">3000</tspan><tspan x="1085.1">K</tspan></text>
</g>
</svg></body></html>
